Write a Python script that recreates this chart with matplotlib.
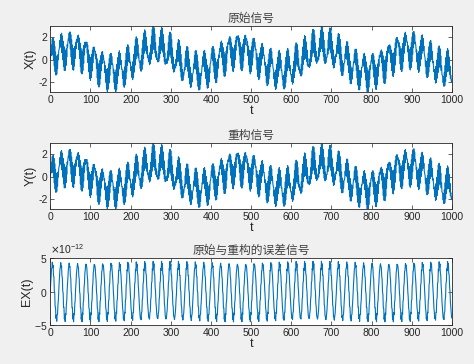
import numpy as np
import matplotlib.pyplot as plt

plt.rcParams['font.family'] = ['Liberation Sans', 'Noto Sans CJK SC', 'DejaVu Sans']
plt.rcParams['axes.unicode_minus'] = False

# signal components: amplitude, angular rate (rad/sample), phase
comp_amp = [1.0, 1.0, 1.0]
comp_rate = [0.03, 0.3, 3.0]
comp_phase = [0.0, 0.0, 0.0]

# error signal: ~4e-12 ripple at the middle component's rate
err_amp = [4.1e-12, 0.5e-12]
err_rate = [0.3, 3.0]

n = np.arange(0, 1001)

x = np.zeros(len(n))
for a, w, p in zip(comp_amp, comp_rate, comp_phase):
    x += a * np.sin(w * n + p)
y = x.copy()
ex = np.zeros(len(n))
for a, w in zip(err_amp, err_rate):
    ex += a * np.sin(w * n)

titles = ['原始信号', '重构信号', '原始与重构的误差信号']
ylabels = ['X(t)', 'Y(t)', 'EX(t)']
series = [x, y, ex]

blue = '#0072BD'
fig = plt.figure(figsize=(4.74, 3.64), dpi=100, facecolor='#f0f0f0')
tops = [25.7, 143.0, 258.3]
h = 66.5
for i in range(3):
    ax = fig.add_axes([50.3 / 474, 1 - (tops[i] + h) / 364, 401.7 / 474, h / 364])
    ax.plot(n, series[i], color=blue, lw=0.8)
    ax.set_xlim(0, 1000)
    ax.set_xticks(np.arange(0, 1001, 100))
    if i < 2:
        ax.set_ylim(-2.9, 3.0)
        ax.set_yticks([-2, 0, 2])
    else:
        ax.set_ylim(-5e-12, 5e-12)
        ax.set_yticks([-5e-12, 0, 5e-12])
        ax.ticklabel_format(axis='y', style='sci', scilimits=(0, 0), useMathText=True)
        ax.yaxis.get_offset_text().set_fontsize(7.5)
        ax.yaxis.get_offset_text().set_color('#262626')
    ax.set_title(titles[i], fontsize=8.5, color='#404040', pad=3)
    ax.set_xlabel('t', fontsize=9, color='#262626', labelpad=0)
    ax.set_ylabel(ylabels[i], fontsize=9, color='#262626', labelpad=1)
    ax.tick_params(direction='in', top=True, right=True, labelsize=7.5,
                   colors='#262626', length=3, width=0.5, pad=2)
    for s in ax.spines.values():
        s.set_linewidth(0.6)
        s.set_color('#262626')

fig.savefig('out.png', dpi=100, facecolor=fig.get_facecolor())
